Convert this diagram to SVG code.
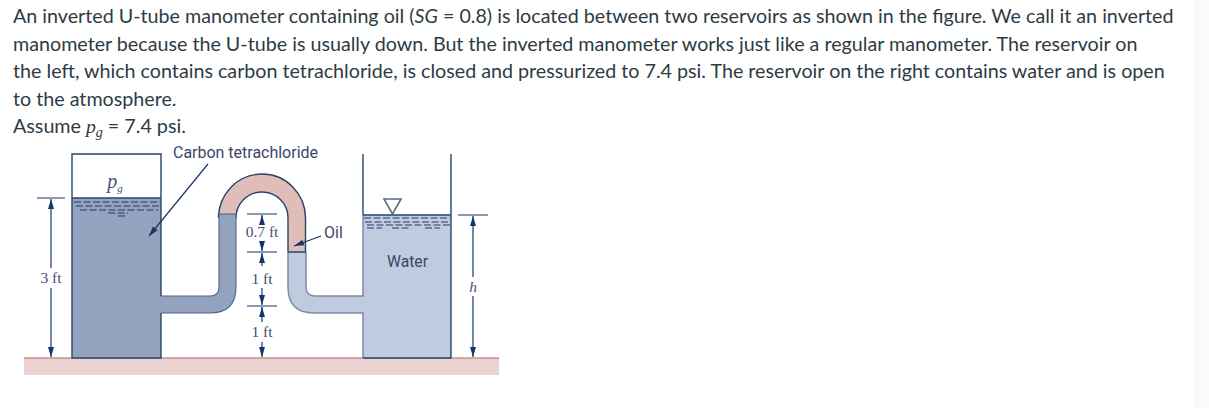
<svg xmlns="http://www.w3.org/2000/svg" width="1209" height="408" viewBox="0 0 1209 408">
<style>
.q{font-family:Lato,"Open Sans",sans-serif;font-size:19.7px;fill:#2d3b45}
.s{font-family:"Liberation Serif",serif;font-size:15.500px;fill:#44506e;text-anchor:middle}
.l{font-family:Roboto,"Liberation Sans",sans-serif;font-size:16px;fill:#3a4668}
.wall{fill:none;stroke:#274669;stroke-width:1.4}
.tube{fill:none;stroke:#4a648c;stroke-width:1.1}
.wallg{fill:none;stroke:#7f8ba3;stroke-width:1.5}
.dim{fill:none;stroke:#14366a;stroke-width:1.2}
.dash{fill:none;stroke:#1f3d68;stroke-width:1.2;stroke-dasharray:7 2.5}
</style>
<defs>
<marker id="a" viewBox="0 0 10 10" refX="10" refY="5" markerWidth="10" markerHeight="10" markerUnits="userSpaceOnUse" orient="auto-start-reverse"><path d="M0 2L10 5L0 8z" fill="#14366a"/></marker>
</defs>
<rect width="1209" height="408" fill="#fff"/>
<rect x="1194" width="15" height="408" fill="#fafafa"/>
<g id="question-text">
<text class="q" x="13" y="23">An inverted U-tube manometer containing oil (<tspan font-style="italic">SG</tspan> = 0.8) is located between two reservoirs as shown in the figure. We call it an inverted</text>
<text class="q" x="13" y="51">manometer because the U-tube is usually down. But the inverted manometer works just like a regular manometer. The reservoir on</text>
<text class="q" x="13" y="78">the left, which contains carbon tetrachloride, is closed and pressurized to 7.4 psi. The reservoir on the right contains water and is open</text>
<text class="q" x="13" y="106">to the atmosphere.</text>
<text class="q" x="13" y="133">Assume <tspan font-family="'Liberation Serif',serif" font-style="italic">p</tspan><tspan font-family="'Liberation Serif',serif" font-style="italic" font-size="14" dy="4">g</tspan><tspan dy="-4"> = 7.4 psi.</tspan></text>
</g>
<g id="ground">
<rect x="24" y="358" width="475" height="17" fill="#ead2d1"/>
<line x1="24" y1="358" x2="499" y2="358" stroke="#b9626a" stroke-width="1.2"/>
</g>
<g id="oil">
<path d="M218 214V218A44 44 0 0 1 306 218V252H288V218A26 26 0 0 0 236 218V214Z" fill="#e0bdb9"/>
<path class="wall" d="M218.500 214V218A43.500 44 0 0 1 305.500 218V252M288 252V218A26 26 0 0 0 236 218V214"/>
</g>
<g id="left-reservoir">
<path d="M72 198H161V296H210Q219 296 219 287V214H236V287Q236 313 210 313H161V358H72Z" fill="#93a3bf"/>
<path class="tube" d="M161 313H210Q236 313 236 287V214H219V287Q219 296 210 296H161"/>
<path class="wall" d="M72 198V358H161V313M161 296V154H72V198H161"/>
<path class="dash" d="M74 202H160M76 206H159M80 210H158"/>
<path class="dash" d="M108 213H128M118 216H126" stroke-dasharray="5 2"/>
</g>
<g id="right-reservoir">
<path d="M363 215H451V358H363V313H314Q288 313 288 287V252H306V287Q306 296 315 296H363Z" fill="#c1cbdf"/>
<path class="wallg" d="M363 358V313H314Q288 313 288 287V252M306 252V287Q306 296 315 296H363V215"/>
<path class="wall" d="M363 215V154M363 358H451V154M363 215H451M288 252H306"/>
<path class="dash" d="M364 218H450M365 222H450M367 225H450"/>
<path class="dash" stroke-dasharray="6 5" d="M367 228H382M392 228H410M425 228H440"/>
<path d="M384 199H401L392.500 214Z" fill="#fff" stroke="#5c6a84" stroke-width="1.6"/>
</g>
<g id="connectors">
<path class="dim" d="M37 198H65M458 215H488M247 214H277M247 252H277M247 306H277"/>
<path class="dim" d="M51 268V199" marker-end="url(#a)"/>
<path class="dim" d="M51 288V357" marker-end="url(#a)"/>
<path class="dim" d="M473 277V216" marker-end="url(#a)"/>
<path class="dim" d="M473 296V357" marker-end="url(#a)"/>
<path class="dim" d="M262 224V215" marker-end="url(#a)"/>
<path class="dim" d="M262 241V251" marker-end="url(#a)"/>
<path class="dim" d="M262 266V253" marker-end="url(#a)"/>
<path class="dim" d="M262 288V305" marker-end="url(#a)"/>
<path class="dim" d="M262 322V307" marker-end="url(#a)"/>
<path class="dim" d="M262 342V357" marker-end="url(#a)"/>
<path class="dim" d="M208 164L149 236" marker-end="url(#a)" stroke="#34496f"/>
<path class="dim" d="M321 236L294 246" marker-end="url(#a)"/>
</g>
<g id="labels">
<text class="l" x="173" y="158" textLength="145" lengthAdjust="spacingAndGlyphs">Carbon tetrachloride</text>
<text class="l" x="324" y="238">Oil</text>
<text class="l" x="387" y="267" textLength="41" lengthAdjust="spacingAndGlyphs">Water</text>
<text class="s" x="51" y="283">3 ft</text>
<text class="s" x="262" y="237">0.7 ft</text>
<text class="s" x="262" y="284">1 ft</text>
<text class="s" x="262" y="337">1 ft</text>
<text class="s" x="473" y="292" font-style="italic">h</text>
<text class="s" x="115" y="188" font-style="italic" style="font-size:20px" fill="#2c3550">p<tspan font-size="11" dy="4">g</tspan></text>
</g>
</svg>
